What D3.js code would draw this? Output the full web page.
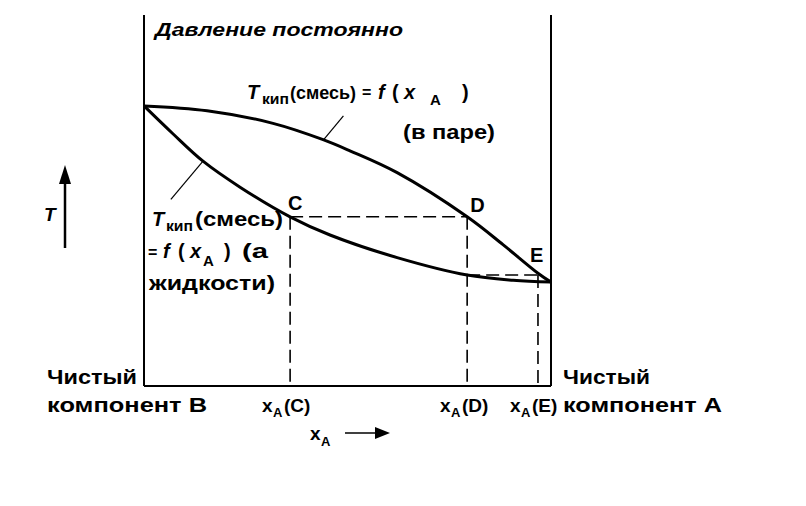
<!DOCTYPE html>
<html><head><meta charset="utf-8">
<script src="https://cdn.jsdelivr.net/npm/d3@7"></script>
<style>
html,body{margin:0;padding:0;background:#fff;}
svg text{font-family:"Liberation Sans",Arial,sans-serif;font-weight:bold;fill:#000;}
</style></head>
<body>
<svg id="c" width="806" height="506"></svg>
<script>
// Composition x_A (0 = pure B, 1 = pure A) and temperature (relative units)
const vaporX = [0, 0.155, 0.317, 0.44, 0.506, 0.622, 0.794, 0.882, 0.968, 1];
const vaporT = [75.5, 74.2, 70.8, 66.4, 63.4, 57.5, 45.6, 38.1, 30.4, 28.0];
const liquidX = [0, 0.071, 0.145, 0.236, 0.359, 0.457, 0.622, 0.794, 0.907, 1];
const liquidT = [75.5, 68.0, 60.6, 53.6, 45.6, 40.7, 34.6, 29.9, 28.5, 28.0];
const pointNames = ["C", "D", "E"];
const pointX = [0.359, 0.794, 0.968];
const pointT = [45.6, 45.6, 29.9];
const tickLabels = ["C", "D", "E"];

const svg = d3.select("#c");
const x = d3.scaleLinear().domain([0, 1]).range([144, 551]);
const y = d3.scaleLinear().domain([0, 100]).range([386, 15]);

// frame
svg.append("line").attr("x1", x(0)).attr("x2", x(0)).attr("y1", y(100)).attr("y2", y(0))
  .attr("stroke", "#000").attr("stroke-width", 2);
svg.append("line").attr("x1", x(1)).attr("x2", x(1)).attr("y1", y(100)).attr("y2", y(0))
  .attr("stroke", "#000").attr("stroke-width", 2);
svg.append("line").attr("x1", x(0)).attr("x2", x(1)).attr("y1", y(0)).attr("y2", y(0))
  .attr("stroke", "#000").attr("stroke-width", 2);

// dashed construction lines
const dash = "13,6";
const g = svg.append("g").attr("stroke", "#000").attr("stroke-width", 1.6)
  .attr("stroke-dasharray", dash).attr("fill", "none");
g.append("line").attr("x1", x(pointX[0])).attr("x2", x(pointX[1]))
  .attr("y1", y(pointT[0])).attr("y2", y(pointT[1]));
pointX.forEach((px, i) => {
  g.append("line").attr("x1", x(px)).attr("x2", x(px))
    .attr("y1", y(pointT[i])).attr("y2", y(0));
});
g.append("line").attr("x1", x(pointX[1])).attr("x2", x(pointX[2]))
  .attr("y1", y(pointT[2])).attr("y2", y(pointT[2]));

// curves
const line = d3.line().x(d => x(d[0])).y(d => y(d[1])).curve(d3.curveCatmullRom.alpha(0.5));
svg.append("path").datum(vaporX.map((v, i) => [v, vaporT[i]]))
  .attr("d", line).attr("fill", "none").attr("stroke", "#000").attr("stroke-width", 3);
svg.append("path").datum(liquidX.map((v, i) => [v, liquidT[i]]))
  .attr("d", line).attr("fill", "none").attr("stroke", "#000").attr("stroke-width", 3);

// leader lines (data space)
svg.append("line").attr("x1", x(0.44)).attr("y1", y(66.2)).attr("x2", x(0.49)).attr("y2", y(72.8))
  .attr("stroke", "#000").attr("stroke-width", 1.2);
svg.append("line").attr("x1", x(0.145)).attr("y1", y(60.6)).attr("x2", x(0.066)).attr("y2", y(50.3))
  .attr("stroke", "#000").attr("stroke-width", 1.2);

function txt(s, px, py, size, opts = {}) {
  const t = svg.append("text").attr("x", px).attr("y", py).attr("font-size", size).text(s);
  if (opts.len) t.attr("textLength", opts.len).attr("lengthAdjust", "spacingAndGlyphs");
  if (opts.italic) t.attr("font-style", "italic");
  if (opts.normal) t.attr("font-weight", "normal");
  return t;
}

// title
txt("Давление постоянно", 155, 36, 18, {italic: true, len: 248});

// vapor label
txt("T", 247, 99, 20, {italic: true});
txt("кип", 262, 104, 15, {len: 27});
txt("(смесь)", 290, 99, 17.5, {len: 66});
txt("=", 362, 98, 16);
txt("f", 378, 99, 20, {italic: true});
txt("(", 392, 99, 20);
txt("x", 404, 99, 20, {italic: true});
txt("A", 430, 105, 15);
txt(")", 462, 99, 20);
txt("(в паре)", 403, 139, 20, {len: 92});

// liquid label
txt("T", 152, 226, 20, {italic: true});
txt("кип", 166, 231, 15, {len: 27});
txt("(смесь)", 195, 226, 20, {len: 88});
txt("=", 148, 258, 16);
txt("f", 163, 258, 20, {italic: true});
txt("(", 178, 258, 20);
txt("x", 190, 258, 20, {italic: true});
txt("A", 203, 266, 15);
txt(")", 224, 258, 20);
txt("(а", 242, 258, 20, {len: 26});
txt("жидкости)", 149, 290, 20, {len: 126});

// point labels
const offs = [[-2, -7], [3, -5], [-8, -13]];
pointNames.forEach((n, i) => {
  txt(n, x(pointX[i]) + offs[i][0], y(pointT[i]) + offs[i][1], 20, {normal: true});
});

// axis T
txt("T", 44, 221, 19, {italic: true, normal: true});
svg.append("line").attr("x1", 65).attr("x2", 65).attr("y1", 248).attr("y2", 180)
  .attr("stroke", "#000").attr("stroke-width", 2.5);
svg.append("path").attr("d", "M65,165 L59,184 L71,184 Z").attr("fill", "#000");

// bottom labels
txt("Чистый", 47, 384, 20, {len: 90});
txt("компонент В", 47, 412, 20, {len: 160});
txt("Чистый", 563, 384, 20, {len: 87});
const tx = [262, 440, 510];
tickLabels.forEach((n, i) => {
  txt("x", tx[i], 412, 19, {normal: true});
  txt("A", tx[i] + 11, 417, 13);
  txt("(" + n + ")", tx[i] + 22, 412, 19, {normal: true});
});
txt("компонент А", 563, 412, 20, {len: 159});

// x_A arrow
txt("x", 310, 440, 19, {normal: true});
txt("A", 321, 446, 13);
svg.append("line").attr("x1", 345).attr("x2", 378).attr("y1", 433).attr("y2", 433)
  .attr("stroke", "#000").attr("stroke-width", 1.5);
svg.append("path").attr("d", "M390,433 L375,427 L375,439 Z").attr("fill", "#000");
</script>
</body></html>
